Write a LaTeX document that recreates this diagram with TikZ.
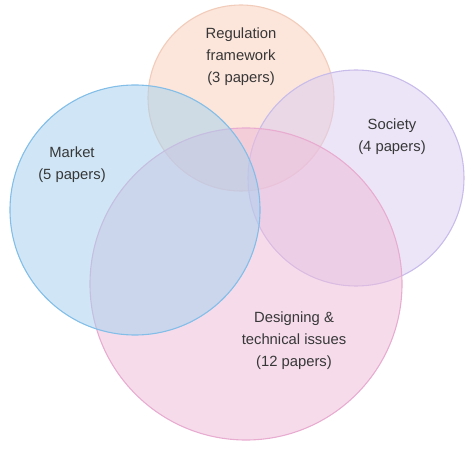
\documentclass[tikz,border=0pt]{standalone}
\usepackage{fontspec}
\setmainfont{Liberation Sans}
\usepackage{tikz}

\definecolor{regfill}{RGB}{249,205,185}
\definecolor{regline}{RGB}{242,204,186}
\definecolor{socfill}{RGB}{219,205,241}
\definecolor{socline}{RGB}{200,188,234}
\definecolor{mktfill}{RGB}{165,208,238}
\definecolor{mktline}{RGB}{130,190,232}
\definecolor{desfill}{RGB}{237,187,217}
\definecolor{desline}{RGB}{232,172,208}
\definecolor{labeltext}{RGB}{55,55,55}

\begin{document}
\begin{tikzpicture}[x=1pt, y=-1pt,
    set/.style={circle, draw, line width=1.1pt, fill opacity=0.52, inner sep=0pt},
    lbl/.style={align=center, text=labeltext, font=\fontsize{14.8}{22}\selectfont}]
            \useasboundingbox (0,0) rectangle (474,454);

            \node[set, fill=regfill, draw=regline, minimum size=186pt] (regulation) at (241,98) {};
            \node[set, fill=socfill, draw=socline, minimum size=216pt] (society) at (356,178) {};
            \node[set, fill=desfill, draw=desline, minimum size=312pt] (designing) at (246,284) {};
            \node[set, fill=mktfill, draw=mktline, minimum size=250pt] (market) at (135,210) {};

            \node[lbl] (reglbl) at (241,57) {Regulation\\framework\\(3 papers)};
            \node[lbl] (soclbl) at (392,137) {Society\\(4 papers)};
            \node[lbl] (mktlbl) at (72,165) {Market\\(5 papers)};
            \node[lbl] (deslbl) at (294,341) {Designing \&\\technical issues\\(12 papers)};
        \end{tikzpicture}
\end{document}
